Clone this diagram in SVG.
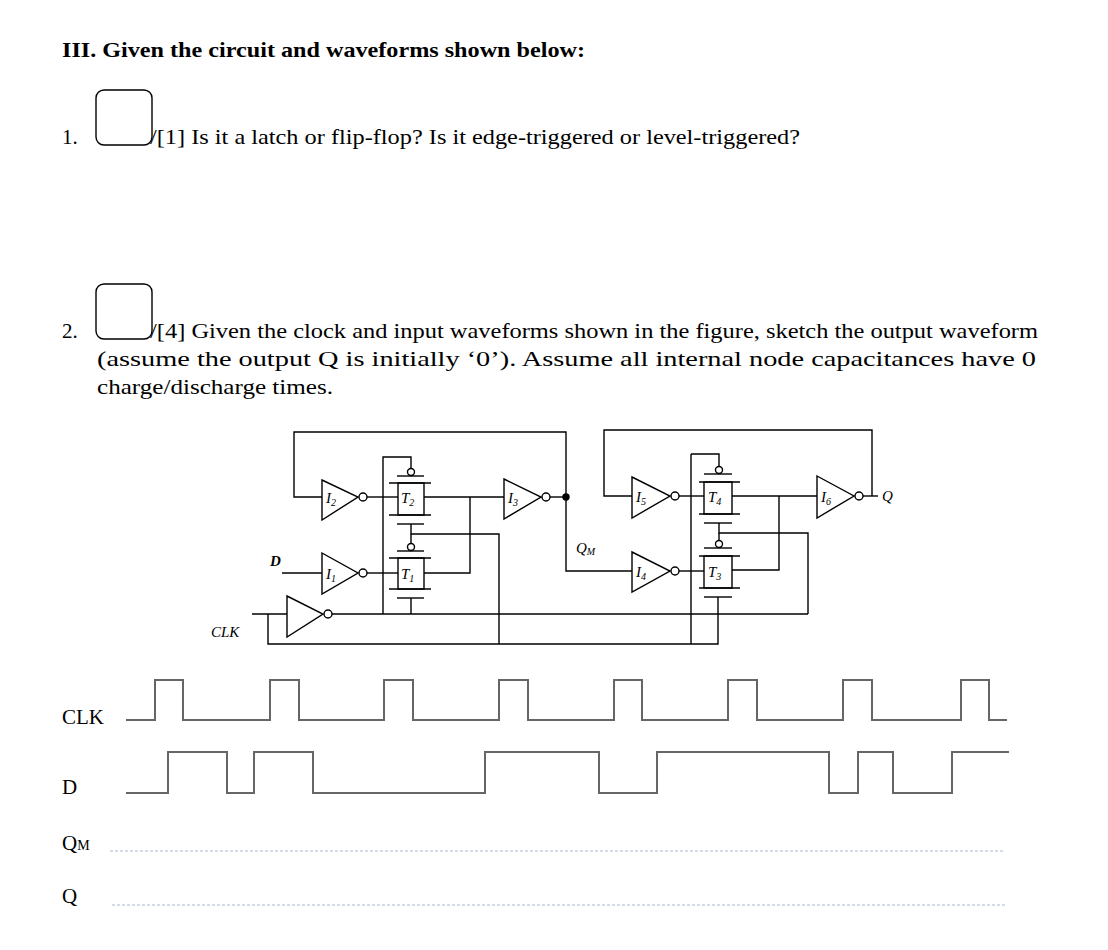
<svg xmlns="http://www.w3.org/2000/svg" width="1108" height="950" viewBox="0 0 1108 950">
<style>
.t{font-family:"Liberation Serif",serif;font-size:21px;fill:#000}
.b{font-weight:bold}
.w{fill:none;stroke:#000;stroke-width:1.4}
.lab{font-family:"Liberation Serif",serif;font-style:italic;font-size:15px;fill:#000}
.wave{fill:none;stroke:#666;stroke-width:2}
.dash{fill:none;stroke:#a9b8d4;stroke-width:1;stroke-dasharray:3 2}
.wl{font-family:"Liberation Serif",serif;font-size:21px;fill:#000}
</style>
<rect width="1108" height="950" fill="#fff"/>
<g id="text">
<text class="t b" x="62" y="57" textLength="523" lengthAdjust="spacingAndGlyphs">III. Given the circuit and waveforms shown below:</text>
<text class="t" x="62" y="144">1.</text>
<rect x="96" y="90" width="56" height="55" rx="8" class="w" stroke-width="2"/>
<text class="t" x="150" y="144" textLength="650" lengthAdjust="spacingAndGlyphs">/[1] Is it a latch or flip-flop? Is it edge-triggered or level-triggered?</text>
<text class="t" x="62" y="338">2.</text>
<rect x="96" y="284" width="56" height="55" rx="8" class="w" stroke-width="2"/>
<text class="t" x="150" y="338" textLength="888" lengthAdjust="spacingAndGlyphs">/[4] Given the clock and input waveforms shown in the figure, sketch the output waveform</text>
<text class="t" x="97" y="366" textLength="939" lengthAdjust="spacingAndGlyphs">(assume  the  output  Q  is  initially  ‘0’).  Assume  all  internal  node  capacitances  have  0</text>
<text class="t" x="97" y="394" textLength="236" lengthAdjust="spacingAndGlyphs">charge/discharge times.</text>
</g>
<g id="connectors" class="w">
<polyline points="322,497 294,497 294,432 566,432 566,571 632,571"/>
<line x1="367" y1="497" x2="398" y2="497"/>
<line x1="424" y1="497" x2="504" y2="497"/>
<polyline points="424,573 470,573 470,497"/>
<line x1="550" y1="497" x2="566" y2="497"/>
<line x1="282" y1="573" x2="322" y2="573"/>
<line x1="367" y1="573" x2="398" y2="573"/>
<polyline points="411,468 411,457 383,457 383,614"/>
<polyline points="411,524 411,534 499,534 499,644"/>
<line x1="411" y1="534" x2="411" y2="543"/>
<line x1="411" y1="598" x2="411" y2="614"/>
<line x1="252" y1="614" x2="287" y2="614"/>
<line x1="332" y1="614" x2="808" y2="614"/>
<polyline points="268,614 268,644 718,644 718,597"/>
<line x1="691" y1="454" x2="691" y2="644"/>
<polyline points="719,466 719,454 691,454"/>
<polyline points="719,523 719,533 808,533 808,614"/>
<line x1="719" y1="533" x2="719" y2="541"/>
<polyline points="632,496 604,496 604,430 872,430 872,496"/>
<line x1="679" y1="496" x2="704" y2="496"/>
<line x1="679" y1="571" x2="704" y2="571"/>
<line x1="732" y1="496" x2="817" y2="496"/>
<polyline points="732,570 779,570 779,496"/>
<line x1="863" y1="496" x2="878" y2="496"/>
<circle cx="566" cy="497" r="3" fill="#000"/>
</g>
<g id="I2"><polygon class="w" points="322,480 358,497 322,520"/><circle class="w" cx="363" cy="497" r="4" fill="#fff"/><text class="lab" x="326" y="503">I<tspan font-size="10" dy="3">2</tspan></text></g>
<g id="I1"><polygon class="w" points="322,553 358,573 322,594"/><circle class="w" cx="363" cy="573" r="4" fill="#fff"/><text class="lab" x="326" y="579">I<tspan font-size="10" dy="3">1</tspan></text></g>
<g id="I3"><polygon class="w" points="504,479 541,497 504,519"/><circle class="w" cx="546" cy="497" r="4" fill="#fff"/><text class="lab" x="508" y="503">I<tspan font-size="10" dy="3">3</tspan></text></g>
<g id="INV_CLK"><polygon class="w" points="287,596 323,614 287,637"/><circle class="w" cx="328" cy="614" r="4" fill="#fff"/></g>
<g id="T2" class="w"><rect x="398" y="483" width="26" height="32"/><line x1="389" y1="483" x2="431" y2="483"/><line x1="389" y1="515" x2="431" y2="515"/><line x1="397" y1="476" x2="424" y2="476"/><circle cx="411" cy="472" r="3.5"/><line x1="397" y1="524" x2="424" y2="524"/><text class="lab" x="401" y="503" stroke="none">T<tspan font-size="10" dy="3">2</tspan></text></g>
<g id="T1" class="w"><rect x="398" y="558" width="26" height="31"/><line x1="389" y1="558" x2="431" y2="558"/><line x1="389" y1="589" x2="431" y2="589"/><line x1="397" y1="551" x2="424" y2="551"/><circle cx="411" cy="547" r="3.5"/><line x1="397" y1="598" x2="424" y2="598"/><text class="lab" x="401" y="579" stroke="none">T<tspan font-size="10" dy="3">1</tspan></text></g>
<g id="I5"><polygon class="w" points="632,477 670,496 632,518"/><circle class="w" cx="675" cy="496" r="4" fill="#fff"/><text class="lab" x="636" y="502">I<tspan font-size="10" dy="3">5</tspan></text></g>
<g id="I4"><polygon class="w" points="632,552 670,571 632,592"/><circle class="w" cx="675" cy="571" r="4" fill="#fff"/><text class="lab" x="636" y="577">I<tspan font-size="10" dy="3">4</tspan></text></g>
<g id="I6"><polygon class="w" points="817,476 854,496 817,518"/><circle class="w" cx="859" cy="496" r="4" fill="#fff"/><text class="lab" x="821" y="502">I<tspan font-size="10" dy="3">6</tspan></text></g>
<g id="T4" class="w"><rect x="704" y="482" width="28" height="32"/><line x1="699" y1="482" x2="740" y2="482"/><line x1="699" y1="514" x2="740" y2="514"/><line x1="704" y1="474" x2="732" y2="474"/><circle cx="719" cy="470" r="3.5"/><line x1="704" y1="523" x2="732" y2="523"/><text class="lab" x="708" y="502" stroke="none">T<tspan font-size="10" dy="3">4</tspan></text></g>
<g id="T3" class="w"><rect x="704" y="556" width="28" height="32"/><line x1="699" y1="556" x2="740" y2="556"/><line x1="699" y1="588" x2="740" y2="588"/><line x1="704" y1="548" x2="732" y2="548"/><circle cx="719" cy="544" r="3.5"/><line x1="704" y1="597" x2="732" y2="597"/><text class="lab" x="708" y="577" stroke="none">T<tspan font-size="10" dy="3">3</tspan></text></g>
<g id="labels">
<text class="lab" x="270" y="566" font-weight="bold">D</text>
<text class="lab" x="211" y="637">CLK</text>
<text class="lab" x="576" y="553">Q<tspan font-size="10" dy="2">M</tspan></text>
<text class="lab" x="882" y="501">Q</text>
</g>
<g id="waveforms">
<text class="wl" x="62" y="724">CLK</text>
<text class="wl" x="62" y="794">D</text>
<text class="wl" x="62" y="850">Q<tspan font-size="14">M</tspan></text>
<text class="wl" x="62" y="903">Q</text>
<polyline class="wave" points="126,720 155,720 155,680 183,680 183,720 270,720 270,680 299,680 299,720 384,720 384,680 413,680 413,720 499,720 499,680 528,680 528,720 614,720 614,680 642,680 642,720 728,720 728,680 757,680 757,720 843,720 843,680 872,680 872,720 961,720 961,680 989,680 989,720 1007,720"/>
<polyline class="wave" points="126,793 168,793 168,752 227,752 227,793 254,793 254,752 313,752 313,793 485,793 485,752 599,752 599,793 657,793 657,752 829,752 829,793 858,793 858,752 893,752 893,793 952,793 952,752 1009,752"/>
<line class="dash" x1="110" y1="851" x2="1005" y2="851"/>
<line class="dash" x1="112" y1="905" x2="1005" y2="905"/>
</g>
</svg>
